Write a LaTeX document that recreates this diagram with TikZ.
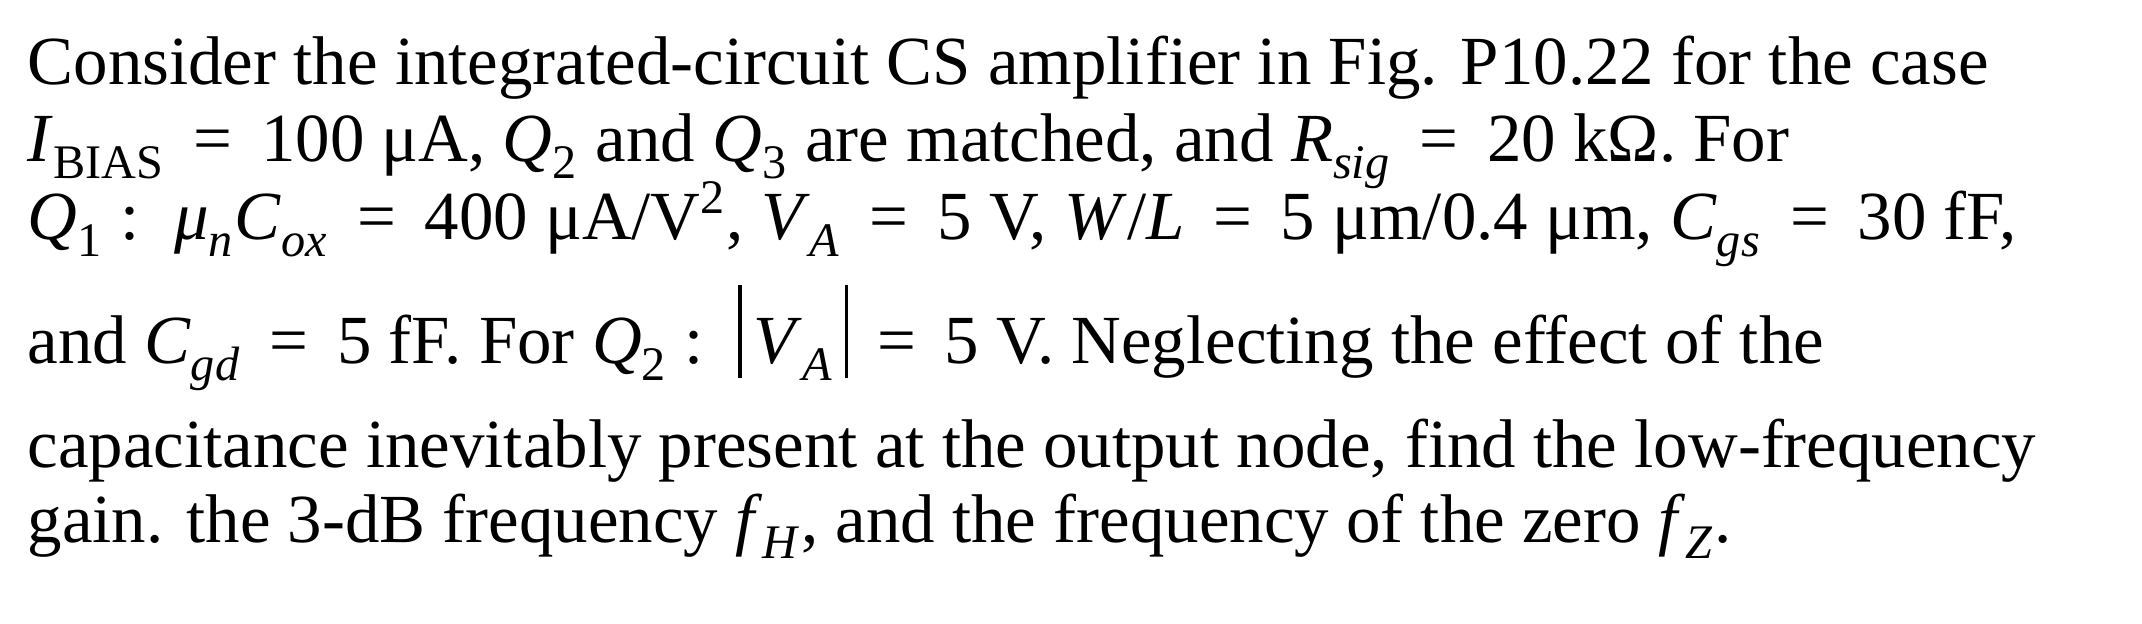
\documentclass[tikz,border=0pt]{standalone}
\usepackage{fontspec}
\setmainfont{Liberation Serif}
\newcommand{\sbs}[1]{\raisebox{-0.08em}{\textsubscript{#1}}}
\newcommand{\spp}[1]{\textsuperscript{#1}}
\newcommand{\eqq}{\ \,=\ \,}
\begin{document}
\begin{tikzpicture}[x=1cm,y=1cm,
  txt/.style={anchor=base west,inner sep=0pt,font=\fontsize{19.6}{22}\selectfont}]
\useasboundingbox (0,0) rectangle (21.42,-6.24);
\node[txt] (l1) at (0.27,-0.85) {Consider the integrated-circuit CS amplifier in Fig. P10.22 for the case};
\node[txt] (l2) at (0.27,-1.62) {\textit{I}\sbs{BIAS}\eqq 100 μA, \textit{Q}\sbs{2} and \textit{Q}\sbs{3} are matched, and \textit{R}\sbs{\textit{sig}}\eqq 20 kΩ. For};
\node[txt] (l3) at (0.27,-2.40) {\textit{Q}\sbs{1}\ :\ \ \textit{μ}\sbs{\textit{n}}\textit{C}\sbs{\textit{ox}}\eqq 400 μA/V\spp{2}, \textit{V}\sbs{\textit{A}}\eqq 5 V, \textit{W}/\textit{L}\eqq 5 μm/0.4 μm, \textit{C}\sbs{\textit{gs}}\eqq 30 fF,};
\node[txt] (l4) at (0.27,-3.64) {and \textit{C}\sbs{\textit{gd}}\eqq 5 fF. For \textit{Q}\sbs{2}\ :\ \ \raisebox{-0.2em}{\rule{0.05em}{1.35em}}\,\textit{V}\sbs{\textit{A}}\,\raisebox{-0.2em}{\rule{0.05em}{1.35em}}\eqq 5 V. Neglecting the effect of the};
\node[txt] (l5) at (0.27,-4.67) {capacitance inevitably present at the output node, find the low-frequency};
\node[txt] (l6) at (0.27,-5.42) {gain. the 3-dB frequency \textit{f}\sbs{\textit{H}}, and the frequency of the zero \textit{f}\sbs{\textit{Z}}.};
\end{tikzpicture}
\end{document}
